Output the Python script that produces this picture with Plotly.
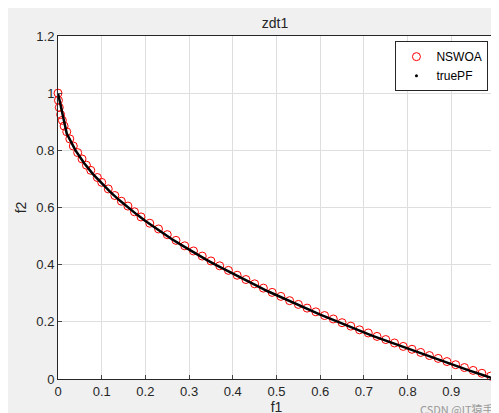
import plotly.graph_objects as go

pf_f1 = [0,0.02,0.04,0.06,0.08,0.10,0.12,0.14,0.16,0.18,0.20,0.22,0.24,0.26,0.28,0.30,0.32,0.34,0.36,0.38,0.40,
         0.42,0.44,0.46,0.48,0.50,0.52,0.54,0.56,0.58,0.60,0.62,0.64,0.66,0.68,0.70,0.72,0.74,0.76,0.78,0.80,
         0.82,0.84,0.86,0.88,0.90,0.92,0.94,0.96,0.98,1.00]
pf_f2 = [1,0.859,0.8,0.755,0.717,0.684,0.654,0.626,0.6,0.576,0.553,0.531,0.51,0.49,0.471,0.452,0.434,0.417,0.4,0.384,0.368,
         0.352,0.337,0.322,0.307,0.293,0.279,0.265,0.252,0.238,0.225,0.213,0.2,0.188,0.175,0.163,0.151,0.14,0.128,0.117,0.106,
         0.094,0.083,0.073,0.062,0.051,0.041,0.030,0.020,0.010,0]

ns_f1 = [0.0,0.001,0.003,0.006,0.01,0.014,0.02,0.027,0.035,0.045,0.055,0.065,0.075,0.09,0.1,0.115,0.13,0.145,0.16,0.175,
         0.19,0.21,0.23,0.25,0.27,0.29,0.31,0.33,0.35,0.37,0.39,0.41,0.43,0.45,0.47,0.49,0.51,0.53,0.55,0.57,0.59,
         0.61,0.63,0.65,0.67,0.69,0.71,0.73,0.75,0.77,0.79,0.81,0.83,0.85,0.87,0.89,0.91,0.93,0.95,0.97,0.99,1.0]
ns_f2 = [1.0,0.975,0.95,0.925,0.905,0.885,0.865,0.84,0.815,0.792,0.77,0.748,0.73,0.705,0.688,0.665,0.642,0.622,0.605,0.585,
         0.567,0.545,0.525,0.505,0.485,0.466,0.448,0.43,0.413,0.396,0.38,0.363,0.348,0.333,0.318,0.303,0.289,0.274,0.261,0.248,0.235,
         0.222,0.21,0.197,0.185,0.172,0.161,0.149,0.138,0.126,0.114,0.104,0.093,0.082,0.072,0.061,0.05,0.04,0.03,0.02,0.01,0.002]

fig = go.Figure()
fig.add_trace(go.Scatter(x=ns_f1, y=ns_f2, mode="markers", name="NSWOA", cliponaxis=False,
                         marker=dict(symbol="circle-open", color="red", size=8, line=dict(width=1))))
fig.add_trace(go.Scatter(x=pf_f1, y=pf_f2, mode="lines", showlegend=False,
                         line=dict(color="black", width=2.5)))
fig.add_trace(go.Scatter(x=[None], y=[None], mode="markers", name="truePF",
                         marker=dict(color="black", size=3)))

ax = dict(showline=True, linecolor="#262626", linewidth=1, mirror=True, showgrid=True,
          gridcolor="#dedede", ticks="inside", ticklen=4, zeroline=False, automargin=False,
          tickfont=dict(family="Arial", size=13, color="#262626"),
          title_font=dict(family="Arial", size=14, color="#262626"))
fig.update_layout(
    width=499, height=413, paper_bgcolor="#f0f0f0", plot_bgcolor="white",
    margin=dict(l=50, r=12, t=28, b=42),
    title=dict(text="zdt1", x=0.535, y=0.975, font=dict(family="Arial", size=14, color="#262626")),
    xaxis=dict(ax, range=[0, 1], dtick=0.1, title=dict(text="f1", standoff=4)),
    yaxis=dict(ax, range=[0, 1.2], dtick=0.2, title=dict(text="f2", standoff=6)),
    legend=dict(x=0.985, y=0.985, xanchor="right", yanchor="top", bgcolor="white",
                bordercolor="#262626", borderwidth=1, font=dict(family="Arial", size=12, color="black")),
    annotations=[dict(text="CSDN @IT猿手", x=1, y=0, xref="paper", yref="paper", xanchor="right",
                      yanchor="top", yshift=-20, showarrow=False,
                      font=dict(family="Noto Sans CJK SC", size=11, color="#999999"))],
)
fig.write_html("out.html")
